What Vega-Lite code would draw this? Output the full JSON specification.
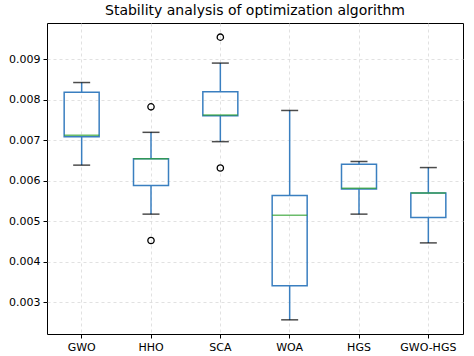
{
  "$schema": "https://vega.github.io/schema/vega-lite/v6.json",
  "width": 416,
  "height": 311,
  "autosize": {"type": "none"},
  "padding": {"left": 47, "top": 23, "right": 11, "bottom": 22},
  "title": {"text": "Stability analysis of optimization algorithm", "font": "DejaVu Sans", "fontSize": 14, "fontWeight": "normal", "color": "black", "offset": 5},
  "config": {
    "view": {"stroke": "black", "strokeWidth": 1},
    "axis": {"domain": false, "tickColor": "black", "tickSize": 4, "labelFont": "DejaVu Sans", "labelFontSize": 11, "labelColor": "black", "labelPadding": 3, "gridColor": "#d9d9d9", "gridDash": [3, 3], "gridWidth": 0.8, "title": null}
  },
  "datasets": {
    "stats": [
      {"alg": "GWO", "min": 0.00639, "q1": 0.00709, "med": 0.00713, "q3": 0.00819, "max": 0.00843},
      {"alg": "HHO", "min": 0.00518, "q1": 0.00589, "med": 0.00655, "q3": 0.00655, "max": 0.0072},
      {"alg": "SCA", "min": 0.00697, "q1": 0.00761, "med": 0.00763, "q3": 0.0082, "max": 0.00891},
      {"alg": "WOA", "min": 0.00257, "q1": 0.00341, "med": 0.00515, "q3": 0.00564, "max": 0.00774},
      {"alg": "HGS", "min": 0.00518, "q1": 0.0058, "med": 0.00582, "q3": 0.00641, "max": 0.00648},
      {"alg": "GWO-HGS", "min": 0.00447, "q1": 0.0051, "med": 0.0057, "q3": 0.0057, "max": 0.00633}
    ],
    "outliers": [
      {"alg": "HHO", "value": 0.00783},
      {"alg": "HHO", "value": 0.00453},
      {"alg": "SCA", "value": 0.00955},
      {"alg": "SCA", "value": 0.00632}
    ]
  },
  "encoding": {
    "x": {"field": "alg", "type": "nominal", "scale": {"domain": ["GWO", "HHO", "SCA", "WOA", "HGS", "GWO-HGS"], "paddingInner": 0, "paddingOuter": 0}, "axis": {"labelAngle": 0, "grid": true, "bandPosition": 0.5}}
  },
  "layer": [
    {
      "data": {"name": "stats"},
      "mark": {"type": "rule", "color": "#3a7fc0", "strokeWidth": 1.5},
      "encoding": {
        "y": {"field": "min", "type": "quantitative", "scale": {"domain": [0.00222, 0.0099], "nice": false, "zero": false}, "axis": {"values": [0.003, 0.004, 0.005, 0.006, 0.007, 0.008, 0.009], "format": ".3f", "grid": true}},
        "y2": {"field": "q1"}
      }
    },
    {
      "data": {"name": "stats"},
      "mark": {"type": "rule", "color": "#3a7fc0", "strokeWidth": 1.5},
      "encoding": {"y": {"field": "q3", "type": "quantitative"}, "y2": {"field": "max"}}
    },
    {
      "data": {"name": "stats"},
      "mark": {"type": "bar", "size": 35, "fill": null, "fillOpacity": 0, "stroke": "#3a7fc0", "strokeWidth": 1.5},
      "encoding": {"y": {"field": "q1", "type": "quantitative"}, "y2": {"field": "q3"}}
    },
    {
      "data": {"name": "stats"},
      "mark": {"type": "tick", "size": 35, "thickness": 1.5, "color": "#2ca02c", "orient": "horizontal"},
      "encoding": {"y": {"field": "med", "type": "quantitative"}}
    },
    {
      "data": {"name": "stats"},
      "mark": {"type": "tick", "size": 17, "thickness": 1.5, "color": "black", "orient": "horizontal"},
      "encoding": {"y": {"field": "min", "type": "quantitative"}}
    },
    {
      "data": {"name": "stats"},
      "mark": {"type": "tick", "size": 17, "thickness": 1.5, "color": "black", "orient": "horizontal"},
      "encoding": {"y": {"field": "max", "type": "quantitative"}}
    },
    {
      "data": {"name": "outliers"},
      "mark": {"type": "point", "shape": "circle", "filled": false, "size": 40, "stroke": "black", "strokeWidth": 1.3, "opacity": 1},
      "encoding": {"y": {"field": "value", "type": "quantitative"}}
    }
  ]
}
